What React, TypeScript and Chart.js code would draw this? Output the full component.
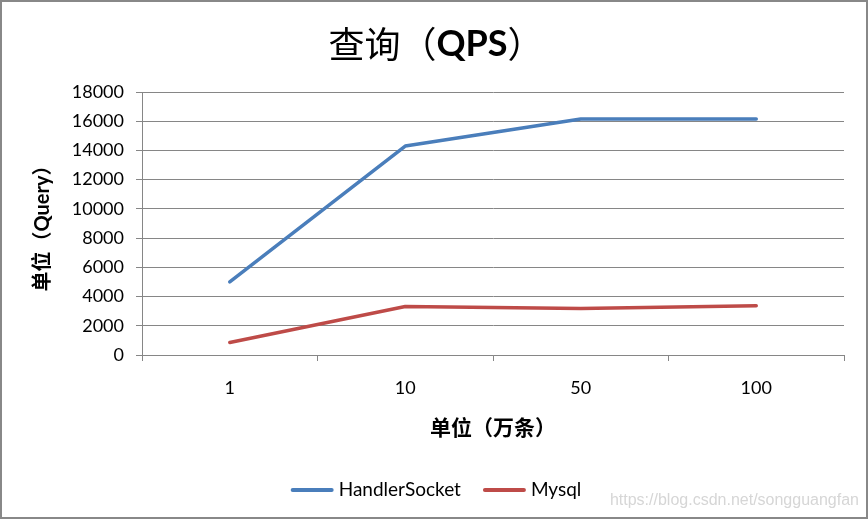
import React, { useEffect, useRef } from "react";
import { Chart, registerables } from "chart.js";

Chart.register(...registerables);

// ---- data ----
const categories: string[] = ["1", "10", "50", "100"];
const handlerSocketValues: number[] = [5000, 14300, 16150, 16150];
const mysqlValues: number[] = [860, 3320, 3190, 3370];
const seriesNames: string[] = ["HandlerSocket", "Mysql"];
const seriesColors: string[] = ["#4a7ebb", "#be4b48"];
const yMin = 0;
const yMax = 18000;
const yStep = 2000;
const titleParts: string[] = ["查询（", "QPS", "）"];
const yAxisTitle = "单位（Query）";
const xAxisTitle = "单位（万条）";
const watermark = "https://blog.csdn.net/songguangfan";

const LATIN = "Lato";
const CJK = "'Noto Sans CJK SC'";
const MIXED = `${LATIN}, ${CJK}`;

const decorPlugin = {
  id: "decor",
  afterDraw(chart: any) {
    const ctx: CanvasRenderingContext2D = chart.ctx;
    ctx.save();
    // Title
    const fonts = [
      `normal 36px ${CJK}`,
      `bold 36px ${LATIN}`,
      `normal 36px ${CJK}`,
    ];
    let total = 0;
    const widths = titleParts.map((t, i) => {
      ctx.font = fonts[i];
      const w = ctx.measureText(t).width;
      total += w;
      return w;
    });
    let x = 434 - total / 2;
    ctx.fillStyle = "#000";
    ctx.textBaseline = "middle";
    ctx.textAlign = "left";
    titleParts.forEach((t, i) => {
      ctx.font = fonts[i];
      ctx.fillText(t, x, 42);
      x += widths[i];
    });

    // Legend
    const lineLen = 39;
    const cap = 2;
    const gapText = 5;
    const gapItem = 22;
    ctx.font = `19px ${LATIN}`;
    const ds = chart.data.datasets;
    const itemWidths = ds.map(
      (d: any) => cap * 2 + lineLen + gapText + ctx.measureText(d.label).width
    );
    const legendTotal =
      itemWidths.reduce((a: number, b: number) => a + b, 0) +
      gapItem * (ds.length - 1);
    let lx = chart.width / 2 - legendTotal / 2 + 2;
    const ly = 488;
    ds.forEach((d: any, i: number) => {
      ctx.strokeStyle = d.borderColor;
      ctx.lineWidth = 4;
      ctx.lineCap = "round";
      ctx.beginPath();
      ctx.moveTo(lx + cap, ly);
      ctx.lineTo(lx + cap + lineLen, ly);
      ctx.stroke();
      ctx.fillStyle = "#000";
      ctx.textBaseline = "middle";
      ctx.fillText(d.label, lx + cap * 2 + lineLen + gapText, ly);
      lx += itemWidths[i] + gapItem;
    });

    // Watermark
    ctx.font = `16px 'Liberation Sans'`;
    ctx.fillStyle = "#d6d6d6";
    ctx.textAlign = "right";
    ctx.textBaseline = "alphabetic";
    ctx.fillText(watermark, 857, 503);
    ctx.restore();
  },
};

export default function App() {
  const canvasRef = useRef<HTMLCanvasElement | null>(null);

  useEffect(() => {
    document.body.style.margin = "0";
    const canvas = canvasRef.current;
    if (!canvas) return;
    const chart = new Chart(canvas, {
      type: "line",
      data: {
        labels: categories,
        datasets: [
          {
            label: seriesNames[0],
            data: handlerSocketValues,
            borderColor: seriesColors[0],
            backgroundColor: seriesColors[0],
            borderWidth: 3.5,
            pointRadius: 0,
            tension: 0,
            borderCapStyle: "round",
            borderJoinStyle: "round",
          },
          {
            label: seriesNames[1],
            data: mysqlValues,
            borderColor: seriesColors[1],
            backgroundColor: seriesColors[1],
            borderWidth: 3.5,
            pointRadius: 0,
            tension: 0,
            borderCapStyle: "round",
            borderJoinStyle: "round",
          },
        ],
      },
      options: {
        responsive: false,
        animation: false,
        events: [],
        devicePixelRatio: 1,
        layout: { padding: { left: 0, right: 22, top: 90, bottom: 0 } },
        plugins: {
          legend: { display: false },
          title: { display: false },
          tooltip: { enabled: false },
        },
        scales: {
          x: {
            type: "category",
            offset: true,
            grid: {
              display: true,
              drawOnChartArea: false,
              drawTicks: true,
              tickLength: 6,
              color: "#868686",
              offset: true,
            },
            border: { color: "#868686", width: 1 },
            ticks: {
              padding: 16,
              color: "#000",
              font: { family: LATIN, size: 18 },
              maxRotation: 0,
            },
            title: {
              display: true,
              text: xAxisTitle,
              color: "#000",
              font: { family: MIXED, size: 21, weight: "bold" },
              padding: { top: 0, bottom: 76 },
            },
            afterFit(scale: any) {
              scale.height = 162;
            },
          },
          y: {
            min: yMin,
            max: yMax,
            ticks: {
              stepSize: yStep,
              padding: 12,
              color: "#000",
              font: { family: LATIN, size: 18 },
              callback: (v: any) => String(v),
            },
            grid: {
              color: "#868686",
              lineWidth: 1,
              drawTicks: true,
              tickLength: 6,
            },
            border: { color: "#868686", width: 1 },
            title: {
              display: true,
              text: yAxisTitle,
              color: "#000",
              font: { family: MIXED, size: 20, weight: "bold" },
              padding: { top: 29, bottom: 0 },
            },
            afterFit(scale: any) {
              scale.width = 140;
            },
          },
        },
      },
      plugins: [decorPlugin],
    });
    return () => chart.destroy();
  }, []);

  return (
    <div
      style={{
        width: 868,
        height: 519,
        boxSizing: "border-box",
        border: "2px solid #888888",
        background: "#ffffff",
      }}
    >
      <canvas
        ref={canvasRef}
        width={864}
        height={515}
        style={{ display: "block", width: 864, height: 515 }}
      />
    </div>
  );
}
